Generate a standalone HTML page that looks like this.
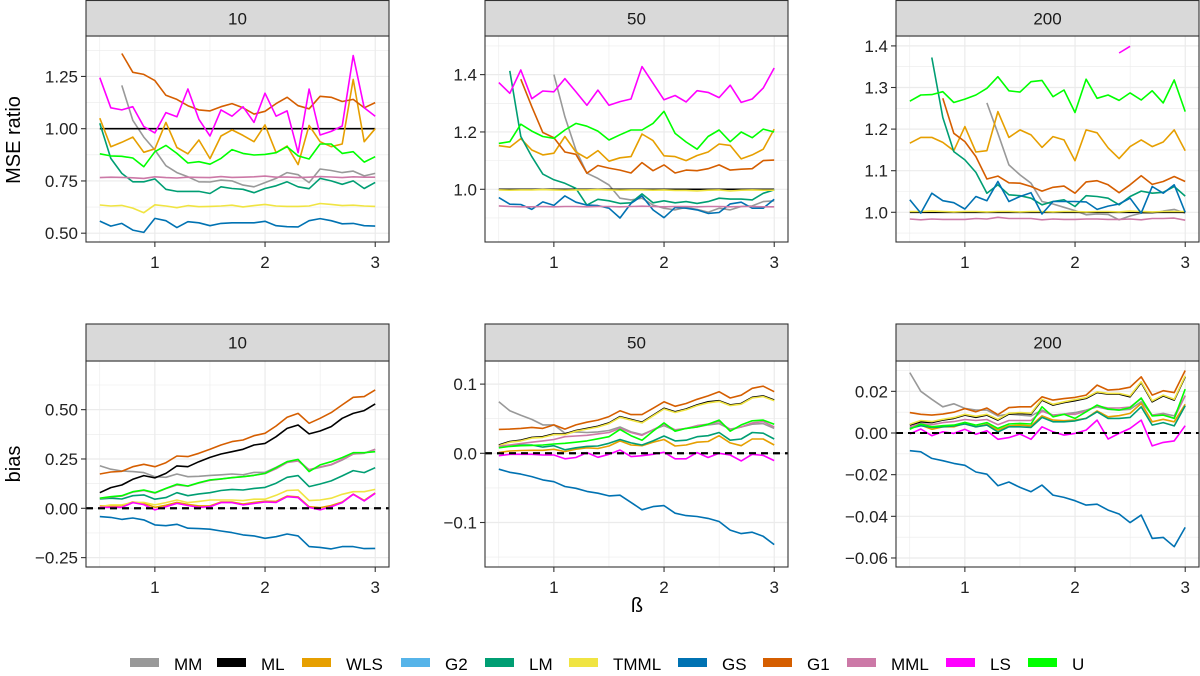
<!DOCTYPE html>
<html><head><meta charset="utf-8"><style>
html,body{margin:0;padding:0;background:#fff;}
svg{display:block;font-family:"Liberation Sans",Arial,sans-serif;}
</style></head><body>
<svg id="chart" width="1200" height="676" viewBox="0 0 1200 676" xmlns="http://www.w3.org/2000/svg"></svg>
<script>
const xs = [0.5,0.6,0.7,0.8,0.9,1.0,1.1,1.2,1.3,1.4,1.5,1.6,1.7,1.8,1.9,2.0,2.1,2.2,2.3,2.4,2.5,2.6,2.7,2.8,2.9,3.0];
const methods = ["MM","ML","WLS","G2","LM","TMML","GS","G1","MML","LS","U"];
const colors = ["#999999","#000000","#E69F00","#56B4E9","#009E73","#F0E442","#0072B2","#D55E00","#CC79A7","#FF00FF","#00FF00"];
const xTicks = [1,2,3];
const xTickLabels = ["1","2","3"];

// MSE ratio, n=10
const mse10_MM = [null,null,1.207,1.04,0.96,0.898,0.823,0.79,0.77,0.746,0.745,0.754,0.75,0.73,0.722,0.742,0.762,0.79,0.78,0.742,0.807,0.80,0.79,0.797,0.774,0.786];
const mse10_ML = [1,1,1,1,1,1,1,1,1,1,1,1,1,1,1,1,1,1,1,1,1,1,1,1,1,1];
const mse10_WLS = [1.05,0.914,0.935,0.96,0.887,0.904,1.03,0.91,0.88,0.946,0.857,0.965,0.994,0.968,0.938,1.018,0.885,0.917,0.828,1.016,0.938,0.914,0.927,1.236,0.938,1.0];
const mse10_LM = [1.026,0.858,0.786,0.746,0.746,0.76,0.71,0.70,0.70,0.70,0.69,0.722,0.714,0.71,0.694,0.714,0.727,0.746,0.722,0.713,0.762,0.75,0.734,0.75,0.714,0.743];
const mse10_TMML = [0.635,0.63,0.633,0.62,0.598,0.636,0.63,0.622,0.632,0.627,0.628,0.63,0.634,0.626,0.632,0.638,0.63,0.628,0.628,0.63,0.642,0.638,0.632,0.634,0.63,0.628];
const mse10_GS = [0.558,0.534,0.547,0.515,0.504,0.571,0.56,0.527,0.555,0.55,0.536,0.547,0.55,0.55,0.55,0.557,0.536,0.531,0.53,0.56,0.57,0.56,0.545,0.547,0.536,0.534];
const mse10_G1 = [null,null,1.36,1.27,1.26,1.23,1.16,1.14,1.11,1.09,1.085,1.105,1.12,1.10,1.07,1.083,1.12,1.15,1.11,1.095,1.155,1.15,1.13,1.14,1.10,1.125];
const mse10_MML = [0.766,0.768,0.767,0.765,0.762,0.77,0.766,0.764,0.768,0.767,0.766,0.771,0.767,0.768,0.77,0.773,0.768,0.769,0.766,0.768,0.771,0.769,0.766,0.77,0.768,0.768];
const mse10_LS = [1.244,1.10,1.09,1.105,1.01,0.98,1.077,1.057,1.19,1.045,0.965,1.09,1.06,1.105,1.03,1.17,1.06,1.085,0.885,1.19,0.97,0.987,1.013,1.35,1.10,1.06];
const mse10_U = [0.88,0.87,0.868,0.86,0.818,0.89,0.92,0.882,0.836,0.842,0.83,0.858,0.90,0.882,0.874,0.877,0.885,0.914,0.87,0.855,0.927,0.927,0.882,0.89,0.84,0.866];

// MSE ratio, n=50
const mse50_MM = [null,null,null,null,null,1.40,1.253,1.137,1.056,1.038,1.015,0.969,0.963,0.969,0.945,0.934,0.928,0.937,0.93,0.92,0.934,0.928,0.94,0.942,0.957,0.96];
const mse50_ML = [1,1,1,1,1,1,1,1,1,1,1,1,1,1,1,1,1,1,1,1,1,1,1,1,1,1];
const mse50_WLS = [1.152,1.147,1.177,1.137,1.12,1.126,1.184,1.13,1.108,1.135,1.098,1.11,1.114,1.193,1.17,1.117,1.114,1.1,1.118,1.13,1.158,1.153,1.106,1.12,1.14,1.21];
const mse50_LM = [null,1.413,1.184,1.114,1.053,1.033,1.021,1.003,0.945,0.965,0.96,0.951,0.953,0.984,0.953,0.96,0.953,0.957,0.951,0.957,0.969,0.966,0.966,0.963,0.986,0.998];
const mse50_TMML = [0.998,0.997,0.998,0.998,0.999,0.998,0.997,0.998,0.998,0.999,0.998,0.997,0.998,0.998,0.997,0.998,0.996,0.996,0.994,0.997,0.998,0.994,0.997,0.998,0.997,0.997];
const mse50_GS = [0.971,0.948,0.947,0.93,0.956,0.944,0.977,0.955,0.945,0.943,0.934,0.90,0.951,0.977,0.928,0.901,0.937,0.934,0.928,0.916,0.919,0.949,0.955,0.934,0.934,0.965];
const mse50_G1 = [null,null,1.384,1.288,1.198,1.18,1.13,1.122,1.056,1.083,1.074,1.067,1.057,1.093,1.065,1.085,1.057,1.067,1.065,1.072,1.085,1.067,1.07,1.072,1.10,1.102];
const mse50_MML = [0.942,0.94,0.939,0.939,0.94,0.939,0.94,0.94,0.939,0.94,0.94,0.939,0.94,0.941,0.94,0.939,0.94,0.94,0.939,0.94,0.94,0.939,0.94,0.94,0.939,0.939];
const mse50_LS = [1.372,1.335,1.416,1.316,1.343,1.34,1.386,1.34,1.293,1.346,1.293,1.306,1.315,1.428,1.37,1.312,1.327,1.305,1.344,1.338,1.32,1.363,1.303,1.315,1.353,1.423];
const mse50_U = [1.16,1.166,1.227,1.203,1.184,1.178,1.207,1.23,1.22,1.203,1.172,1.19,1.207,1.207,1.23,1.272,1.195,1.165,1.14,1.184,1.207,1.166,1.2,1.18,1.21,1.2];

// MSE ratio, n=200
const mse200_MM = [null,null,null,null,null,null,null,1.263,1.19,1.114,1.09,1.07,1.026,1.02,1.012,1.004,0.994,0.996,0.995,0.982,0.991,0.998,0.998,1.003,1.007,0.998];
const mse200_ML = [1,1,1,1,1,1,1,1,1,1,1,1,1,1,1,1,1,1,1,1,1,1,1,1,1,1];
const mse200_WLS = [1.166,1.18,1.18,1.168,1.148,1.206,1.145,1.148,1.242,1.18,1.198,1.186,1.156,1.182,1.174,1.124,1.198,1.191,1.155,1.129,1.158,1.174,1.158,1.169,1.198,1.148];
const mse200_LM = [null,null,1.372,1.228,1.146,1.126,1.096,1.046,1.066,1.042,1.04,1.034,1.018,1.026,1.03,1.014,1.04,1.038,1.034,1.018,1.038,1.051,1.046,1.048,1.062,1.039];
const mse200_TMML = [1.002,1.002,1.003,1.002,1.001,1.002,1.002,1.001,1.002,1.002,1.001,1.002,1.002,1.001,1.002,1.002,1.001,1.002,1.002,1.001,1.003,1.002,1.001,1.002,1.002,1.002];
const mse200_GS = [1.03,0.998,1.046,1.028,1.023,1.008,1.038,1.028,1.074,1.026,1.038,1.047,0.996,1.026,1.026,1.026,1.025,1.007,1.015,1.02,1.034,0.998,1.062,1.046,1.066,1.0];
const mse200_G1 = [null,null,null,1.274,1.19,1.17,1.134,1.08,1.087,1.071,1.07,1.062,1.051,1.06,1.063,1.046,1.073,1.076,1.066,1.047,1.066,1.088,1.067,1.074,1.086,1.074];
const mse200_MML = [0.984,0.982,0.984,0.983,0.983,0.983,0.985,0.984,0.988,0.985,0.985,0.985,0.982,0.984,0.983,0.983,0.984,0.984,0.983,0.983,0.984,0.982,0.985,0.985,0.986,0.981];
const mse200_LS = [null,null,null,null,null,null,null,null,null,null,null,null,null,null,null,null,null,null,null,1.383,1.399,null,null,null,null,null];
const mse200_U = [1.267,1.282,1.283,1.29,1.264,1.272,1.282,1.298,1.326,1.292,1.289,1.314,1.317,1.278,1.294,1.24,1.32,1.274,1.282,1.269,1.287,1.27,1.292,1.263,1.318,1.242];

// bias, n=10
const bias10_MM = [0.216,0.198,0.189,0.186,0.181,0.16,0.157,0.174,0.16,0.162,0.167,0.17,0.174,0.17,0.182,0.182,0.208,0.236,0.245,0.194,0.208,0.22,0.245,0.275,0.279,0.299];
const bias10_ML = [0.079,0.105,0.118,0.147,0.166,0.154,0.177,0.215,0.211,0.236,0.258,0.275,0.287,0.299,0.321,0.329,0.363,0.405,0.422,0.377,0.392,0.414,0.456,0.481,0.495,0.529];
const bias10_WLS = [0.012,0.012,0.014,0.032,0.025,0.005,0.015,0.03,0.02,0.012,0.012,0.032,0.032,0.022,0.03,0.036,0.035,0.062,0.058,0.008,0.003,0.014,0.032,0.072,0.04,0.078];
const bias10_LM = [0.047,0.051,0.047,0.064,0.068,0.046,0.054,0.079,0.064,0.073,0.079,0.09,0.096,0.093,0.101,0.106,0.127,0.157,0.166,0.11,0.123,0.139,0.164,0.191,0.181,0.206];
const bias10_TMML = [0.008,0.017,0.017,0.029,0.03,0.017,0.029,0.042,0.029,0.035,0.042,0.042,0.042,0.039,0.046,0.046,0.066,0.09,0.093,0.039,0.042,0.051,0.071,0.084,0.084,0.096];
const bias10_GS = [-0.042,-0.046,-0.056,-0.049,-0.059,-0.084,-0.088,-0.081,-0.101,-0.103,-0.106,-0.115,-0.123,-0.135,-0.14,-0.152,-0.144,-0.13,-0.14,-0.194,-0.198,-0.206,-0.194,-0.194,-0.204,-0.203];
const bias10_G1 = [0.174,0.184,0.1875,0.211,0.223,0.211,0.231,0.265,0.262,0.279,0.299,0.321,0.338,0.346,0.368,0.38,0.417,0.461,0.481,0.431,0.456,0.485,0.524,0.5625,0.566,0.6];
const bias10_MML = [0.05,0.057,0.062,0.082,0.09,0.077,0.1,0.118,0.112,0.128,0.142,0.148,0.156,0.16,0.168,0.176,0.2,0.232,0.24,0.196,0.21,0.222,0.248,0.275,0.28,0.298];
const bias10_LS = [0.005,0.005,0.005,0.029,0.019,-0.008,0.008,0.025,0.014,0.005,0.008,0.029,0.029,0.017,0.025,0.032,0.03,0.059,0.054,0.005,-0.008,0.008,0.029,0.071,0.037,0.076];
const bias10_U = [0.051,0.059,0.064,0.084,0.093,0.079,0.101,0.122,0.113,0.13,0.144,0.149,0.155,0.16,0.167,0.177,0.206,0.236,0.248,0.186,0.22,0.236,0.257,0.282,0.282,0.287];

// bias, n=50
const bias50_MM = [0.0745,0.0615,0.055,0.049,0.041,0.041,0.029,0.031,0.03,0.031,0.033,0.038,0.031,0.027,0.034,0.040,0.033,0.036,0.038,0.041,0.043,0.035,0.038,0.042,0.043,0.036];
const bias50_ML = [0.012,0.017,0.019,0.023,0.024,0.028,0.028,0.033,0.036,0.039,0.044,0.053,0.049,0.045,0.055,0.065,0.060,0.064,0.070,0.0745,0.076,0.070,0.072,0.081,0.083,0.077];
const bias50_WLS = [0.001,0.0034,0.004,0.0043,0.0043,0.0058,0.0024,0.006,0.008,0.007,0.0106,0.018,0.012,0.011,0.016,0.020,0.0106,0.012,0.016,0.017,0.0255,0.015,0.011,0.0207,0.0207,0.012];
const bias50_LM = [0.0106,0.011,0.012,0.012,0.009,0.011,0.005,0.008,0.01,0.0106,0.0145,0.020,0.015,0.012,0.018,0.025,0.018,0.019,0.024,0.0255,0.030,0.019,0.0207,0.030,0.029,0.0207];
const bias50_TMML = [0.011,0.016,0.018,0.022,0.023,0.027,0.027,0.032,0.035,0.038,0.043,0.052,0.048,0.044,0.054,0.064,0.059,0.063,0.069,0.073,0.075,0.069,0.071,0.08,0.082,0.076];
const bias50_GS = [-0.023,-0.0274,-0.030,-0.0337,-0.0385,-0.041,-0.048,-0.0505,-0.055,-0.0577,-0.0615,-0.0606,-0.071,-0.0817,-0.077,-0.0755,-0.0865,-0.090,-0.0913,-0.094,-0.0986,-0.111,-0.116,-0.114,-0.120,-0.132];
const bias50_G1 = [0.0346,0.035,0.036,0.0375,0.036,0.041,0.035,0.041,0.045,0.048,0.053,0.0615,0.056,0.056,0.065,0.0745,0.068,0.072,0.078,0.083,0.089,0.080,0.084,0.094,0.097,0.089];
const bias50_MML = [0.01,0.012,0.014,0.016,0.018,0.02,0.024,0.025,0.026,0.028,0.03,0.036,0.03,0.026,0.034,0.042,0.034,0.036,0.04,0.042,0.046,0.034,0.038,0.044,0.046,0.038];
const bias50_LS = [-0.0034,-0.0014,-0.0014,-0.0014,-0.0024,-0.0024,-0.008,-0.006,0.001,-0.0058,-0.0014,0.0048,-0.0048,-0.0034,-0.0014,0.0014,-0.008,-0.008,0.001,-0.006,0.0,-0.0024,-0.011,-0.0014,-0.003,-0.0106];
const bias50_U = [0.008,0.01,0.011,0.0115,0.012,0.0135,0.0145,0.016,0.018,0.021,0.024,0.0346,0.0255,0.019,0.032,0.044,0.032,0.036,0.038,0.042,0.048,0.032,0.041,0.047,0.048,0.042];

// bias, n=200
const bias200_MM = [0.029,0.020,0.0162,0.0126,0.014,0.0118,0.011,0.011,0.0082,0.0091,0.0086,0.0082,0.011,0.0086,0.0091,0.0098,0.011,0.0126,0.0114,0.011,0.0114,0.015,0.0086,0.0094,0.0082,0.0178];
const bias200_ML = [0.0038,0.0054,0.005,0.0062,0.007,0.0086,0.0075,0.0086,0.0062,0.0091,0.0094,0.0091,0.0158,0.0134,0.0146,0.0155,0.0166,0.0194,0.0187,0.0187,0.0174,0.0242,0.015,0.0178,0.0158,0.027];
const bias200_WLS = [0.0022,0.0038,0.0018,0.003,0.003,0.0046,0.003,0.0042,0.0014,0.0034,0.0038,0.0034,0.0082,0.0062,0.0059,0.0062,0.007,0.0106,0.0078,0.0083,0.0094,0.0142,0.0054,0.0066,0.0054,0.0138];
const bias200_LM = [0.0022,0.0035,0.0027,0.003,0.0034,0.0043,0.003,0.0038,0.0005,0.003,0.003,0.0027,0.0075,0.0054,0.0054,0.0058,0.007,0.0102,0.007,0.007,0.0075,0.0126,0.0038,0.005,0.0034,0.0131];
const bias200_TMML = [0.0042,0.006,0.0055,0.0066,0.0074,0.009,0.008,0.009,0.0066,0.0095,0.0098,0.0095,0.0162,0.0138,0.015,0.016,0.017,0.0198,0.019,0.019,0.0178,0.0246,0.0154,0.0182,0.0162,0.0274];
const bias200_GS = [-0.0085,-0.009,-0.0122,-0.0133,-0.0146,-0.0155,-0.0187,-0.0198,-0.0253,-0.0235,-0.0261,-0.0282,-0.025,-0.0298,-0.0309,-0.0325,-0.0346,-0.0342,-0.037,-0.0389,-0.043,-0.0394,-0.0506,-0.0501,-0.0546,-0.0453];
const bias200_G1 = [0.0098,0.009,0.0086,0.0091,0.010,0.0117,0.0102,0.012,0.0088,0.0122,0.0126,0.0126,0.0174,0.0158,0.0165,0.0171,0.0182,0.023,0.0206,0.021,0.022,0.027,0.0182,0.0203,0.0194,0.030];
const bias200_MML = [0.003,0.0045,0.004,0.005,0.0055,0.0065,0.006,0.0065,0.004,0.006,0.006,0.006,0.0105,0.0085,0.009,0.009,0.0105,0.013,0.012,0.012,0.0125,0.0165,0.0085,0.009,0.007,0.018];
const bias200_LS = [-0.0005,0.0019,-0.0013,0.0006,-0.0002,0.0018,-0.0006,0.0011,-0.003,-0.0022,-0.0005,-0.003,0.003,0.0006,-0.001,-0.0002,0.0014,0.0062,-0.0029,-0.0002,0.0022,0.0062,-0.0062,-0.0045,-0.0038,0.0035];
const bias200_U = [0.0018,0.0043,0.003,0.0035,0.0038,0.0051,0.0038,0.005,0.0022,0.0043,0.0046,0.0043,0.0126,0.0078,0.009,0.007,0.0102,0.0134,0.0115,0.011,0.0122,0.0168,0.0082,0.0086,0.007,0.0211];

// tick arrays
const mse10Ticks = [0.5,0.75,1.0,1.25];
const mse10Labels = ["0.50","0.75","1.00","1.25"];
const mse50Ticks = [1.0,1.2,1.4];
const mse50Labels = ["1.0","1.2","1.4"];
const mse200Ticks = [1.0,1.1,1.2,1.3,1.4];
const mse200Labels = ["1.0","1.1","1.2","1.3","1.4"];
const bias10Ticks = [-0.25,0,0.25,0.5];
const bias10Labels = ["\u22120.25","0.00","0.25","0.50"];
const bias50Ticks = [-0.1,0,0.1];
const bias50Labels = ["\u22120.1","0.0","0.1"];
const bias200Ticks = [-0.06,-0.04,-0.02,0,0.02];
const bias200Labels = ["\u22120.06","\u22120.04","\u22120.02","0.00","0.02"];

const NS = "http://www.w3.org/2000/svg";
const svg = document.getElementById("chart");
function mk(tag, attrs, parent) {
  const e = document.createElementNS(NS, tag);
  for (const k in attrs) e.setAttribute(k, attrs[k]);
  (parent || svg).appendChild(e);
  return e;
}

function drawPanel(cfg) {
  const g = mk("g", {});
  
  
  const L = cfg.x0, R = cfg.x1, T = cfg.y0, B = cfg.y1;
  const xd = [0.375, 3.125];
  const sx = v => L + (v - xd[0]) / (xd[1] - xd[0]) * (R - L);
  const sy = v => B - (v - cfg.yd[0]) / (cfg.yd[1] - cfg.yd[0]) * (B - T);
  mk("rect", {x:L, y:T, width:R-L, height:B-T, fill:"#ffffff"}, g);
  // minor grid
  const ticks = cfg.ticks;
  const step = ticks[1] - ticks[0];
  for (let v = ticks[0] - step/2; v <= cfg.yd[1]; v += step) {
    if (v < cfg.yd[0]) continue;
    mk("line", {x1:L, x2:R, y1:sy(v), y2:sy(v), stroke:"#EBEBEB", "stroke-width":0.6}, g);
  }
  [0.5,1.5,2.5].forEach(v => mk("line", {x1:sx(v), x2:sx(v), y1:T, y2:B, stroke:"#EBEBEB", "stroke-width":0.6}, g));
  ticks.forEach(v => mk("line", {x1:L, x2:R, y1:sy(v), y2:sy(v), stroke:"#EBEBEB", "stroke-width":1.2}, g));
  xTicks.forEach(v => mk("line", {x1:sx(v), x2:sx(v), y1:T, y2:B, stroke:"#EBEBEB", "stroke-width":1.2}, g));
  // clip
  const cid = "clip-" + cfg.name;
  const cp = mk("clipPath", {id:cid}, g);
  mk("rect", {x:L, y:T, width:R-L, height:B-T}, cp);
  const lines = mk("g", {"clip-path":"url(#"+cid+")"}, g);
  if (cfg.dashed) {
    const h = mk("line", {x1:L, x2:R, y1:sy(0), y2:sy(0), stroke:"#000", "stroke-width":2, "stroke-dasharray":"7,5"}, lines);
    
    
  }
  cfg.series.forEach((arr, i) => {
    if (!arr) return;
    let d = "", pen = false;
    arr.forEach((v, j) => {
      if (v === null) { pen = false; return; }
      d += (pen ? "L" : "M") + sx(xs[j]).toFixed(1) + "," + sy(v).toFixed(1);
      pen = true;
    });
    const p = mk("path", {d:d, fill:"none", stroke:colors[i], "stroke-width":1.6, "stroke-linejoin":"round"}, lines);
    
    
  });
  if (cfg.dashed) {
    mk("line", {x1:L, x2:R, y1:sy(0), y2:sy(0), stroke:"#000", "stroke-width":2, "stroke-dasharray":"7,5"}, lines);
  }
  mk("rect", {x:L, y:T, width:R-L, height:B-T, fill:"none", stroke:"#333333", "stroke-width":1.1}, g);
  // strip
  const st = mk("rect", {x:L, y:cfg.sy0, width:R-L, height:T-cfg.sy0, fill:"#D9D9D9", stroke:"#333333", "stroke-width":1.1}, g);
  
  
  const stx = mk("text", {x:(L+R)/2, y:(cfg.sy0+T)/2+6, "text-anchor":"middle", "font-size":17, fill:"#1A1A1A"}, g);
  stx.textContent = cfg.strip;
  
  
  // y ticks
  ticks.forEach((v, i) => {
    mk("line", {x1:L-5, x2:L, y1:sy(v), y2:sy(v), stroke:"#333", "stroke-width":1.1}, g);
    const t = mk("text", {x:L-8, y:sy(v)+6, "text-anchor":"end", "font-size":17, fill:"#222"}, g);
    t.textContent = cfg.labels[i];
    
    
  });
  xTicks.forEach((v, i) => {
    mk("line", {x1:sx(v), x2:sx(v), y1:B, y2:B+5, stroke:"#333", "stroke-width":1.1}, g);
    const t = mk("text", {x:sx(v), y:B+26, "text-anchor":"middle", "font-size":17, fill:"#222"}, g);
    t.textContent = xTickLabels[i];
    
    
  });
}

const cols = [[86,389],[485,788],[896,1199]];
const topRow = {y0:36, y1:242, sy0:0.5};
const botRow = {y0:361, y1:567, sy0:324};

drawPanel({name:"panel-mse-10", x0:cols[0][0], x1:cols[0][1], y0:topRow.y0, y1:topRow.y1, sy0:topRow.sy0, yd:[0.4579,1.4435], ticks:mse10Ticks, labels:mse10Labels, strip:"10",
  series:[mse10_MM,mse10_ML,mse10_WLS,null,mse10_LM,mse10_TMML,mse10_GS,mse10_G1,mse10_MML,mse10_LS,mse10_U]});
drawPanel({name:"panel-mse-50", x0:cols[1][0], x1:cols[1][1], y0:topRow.y0, y1:topRow.y1, sy0:topRow.sy0, yd:[0.8162,1.5347], ticks:mse50Ticks, labels:mse50Labels, strip:"50",
  series:[mse50_MM,mse50_ML,mse50_WLS,null,mse50_LM,mse50_TMML,mse50_GS,mse50_G1,mse50_MML,mse50_LS,mse50_U]});
drawPanel({name:"panel-mse-200", x0:cols[2][0], x1:cols[2][1], y0:topRow.y0, y1:topRow.y1, sy0:topRow.sy0, yd:[0.9286,1.4238], ticks:mse200Ticks, labels:mse200Labels, strip:"200",
  series:[mse200_MM,mse200_ML,mse200_WLS,null,mse200_LM,mse200_TMML,mse200_GS,mse200_G1,mse200_MML,mse200_LS,mse200_U]});
drawPanel({name:"panel-bias-10", x0:cols[0][0], x1:cols[0][1], y0:botRow.y0, y1:botRow.y1, sy0:botRow.sy0, yd:[-0.2975,0.7466], ticks:bias10Ticks, labels:bias10Labels, strip:"10", dashed:true,
  series:[bias10_MM,bias10_ML,bias10_WLS,null,bias10_LM,bias10_TMML,bias10_GS,bias10_G1,bias10_MML,bias10_LS,bias10_U]});
drawPanel({name:"panel-bias-50", x0:cols[1][0], x1:cols[1][1], y0:botRow.y0, y1:botRow.y1, sy0:botRow.sy0, yd:[-0.1643,0.1334], ticks:bias50Ticks, labels:bias50Labels, strip:"50", dashed:true,
  series:[bias50_MM,bias50_ML,bias50_WLS,null,bias50_LM,bias50_TMML,bias50_GS,bias50_G1,bias50_MML,bias50_LS,bias50_U]});
drawPanel({name:"panel-bias-200", x0:cols[2][0], x1:cols[2][1], y0:botRow.y0, y1:botRow.y1, sy0:botRow.sy0, yd:[-0.06433,0.03457], ticks:bias200Ticks, labels:bias200Labels, strip:"200", dashed:true,
  series:[bias200_MM,bias200_ML,bias200_WLS,null,bias200_LM,bias200_TMML,bias200_GS,bias200_G1,bias200_MML,bias200_LS,bias200_U]});

// axis titles
const yt1 = mk("text", {x:0, y:0, transform:"translate(20,140) rotate(-90)", "text-anchor":"middle", "font-size":20, fill:"#000"});
yt1.textContent = "MSE ratio";


const yt2 = mk("text", {x:0, y:0, transform:"translate(20,464) rotate(-90)", "text-anchor":"middle", "font-size":20, fill:"#000"});
yt2.textContent = "bias";


const xt = mk("text", {x:637, y:612, "text-anchor":"middle", "font-size":20, fill:"#000"});
xt.textContent = "ß";



// legend
const legendKeyX = [130,217,302,401,485,569,678,763,847,946,1028];
const lg = mk("g", {});


methods.forEach((m, i) => {
  const r = mk("rect", {x:legendKeyX[i], y:658, width:29, height:9, fill:colors[i]}, lg);
  
  
  const t = mk("text", {x:legendKeyX[i]+44, y:670, "font-size":17, fill:"#000"}, lg);
  t.textContent = m;
  
  
});
</script>
</body></html>
